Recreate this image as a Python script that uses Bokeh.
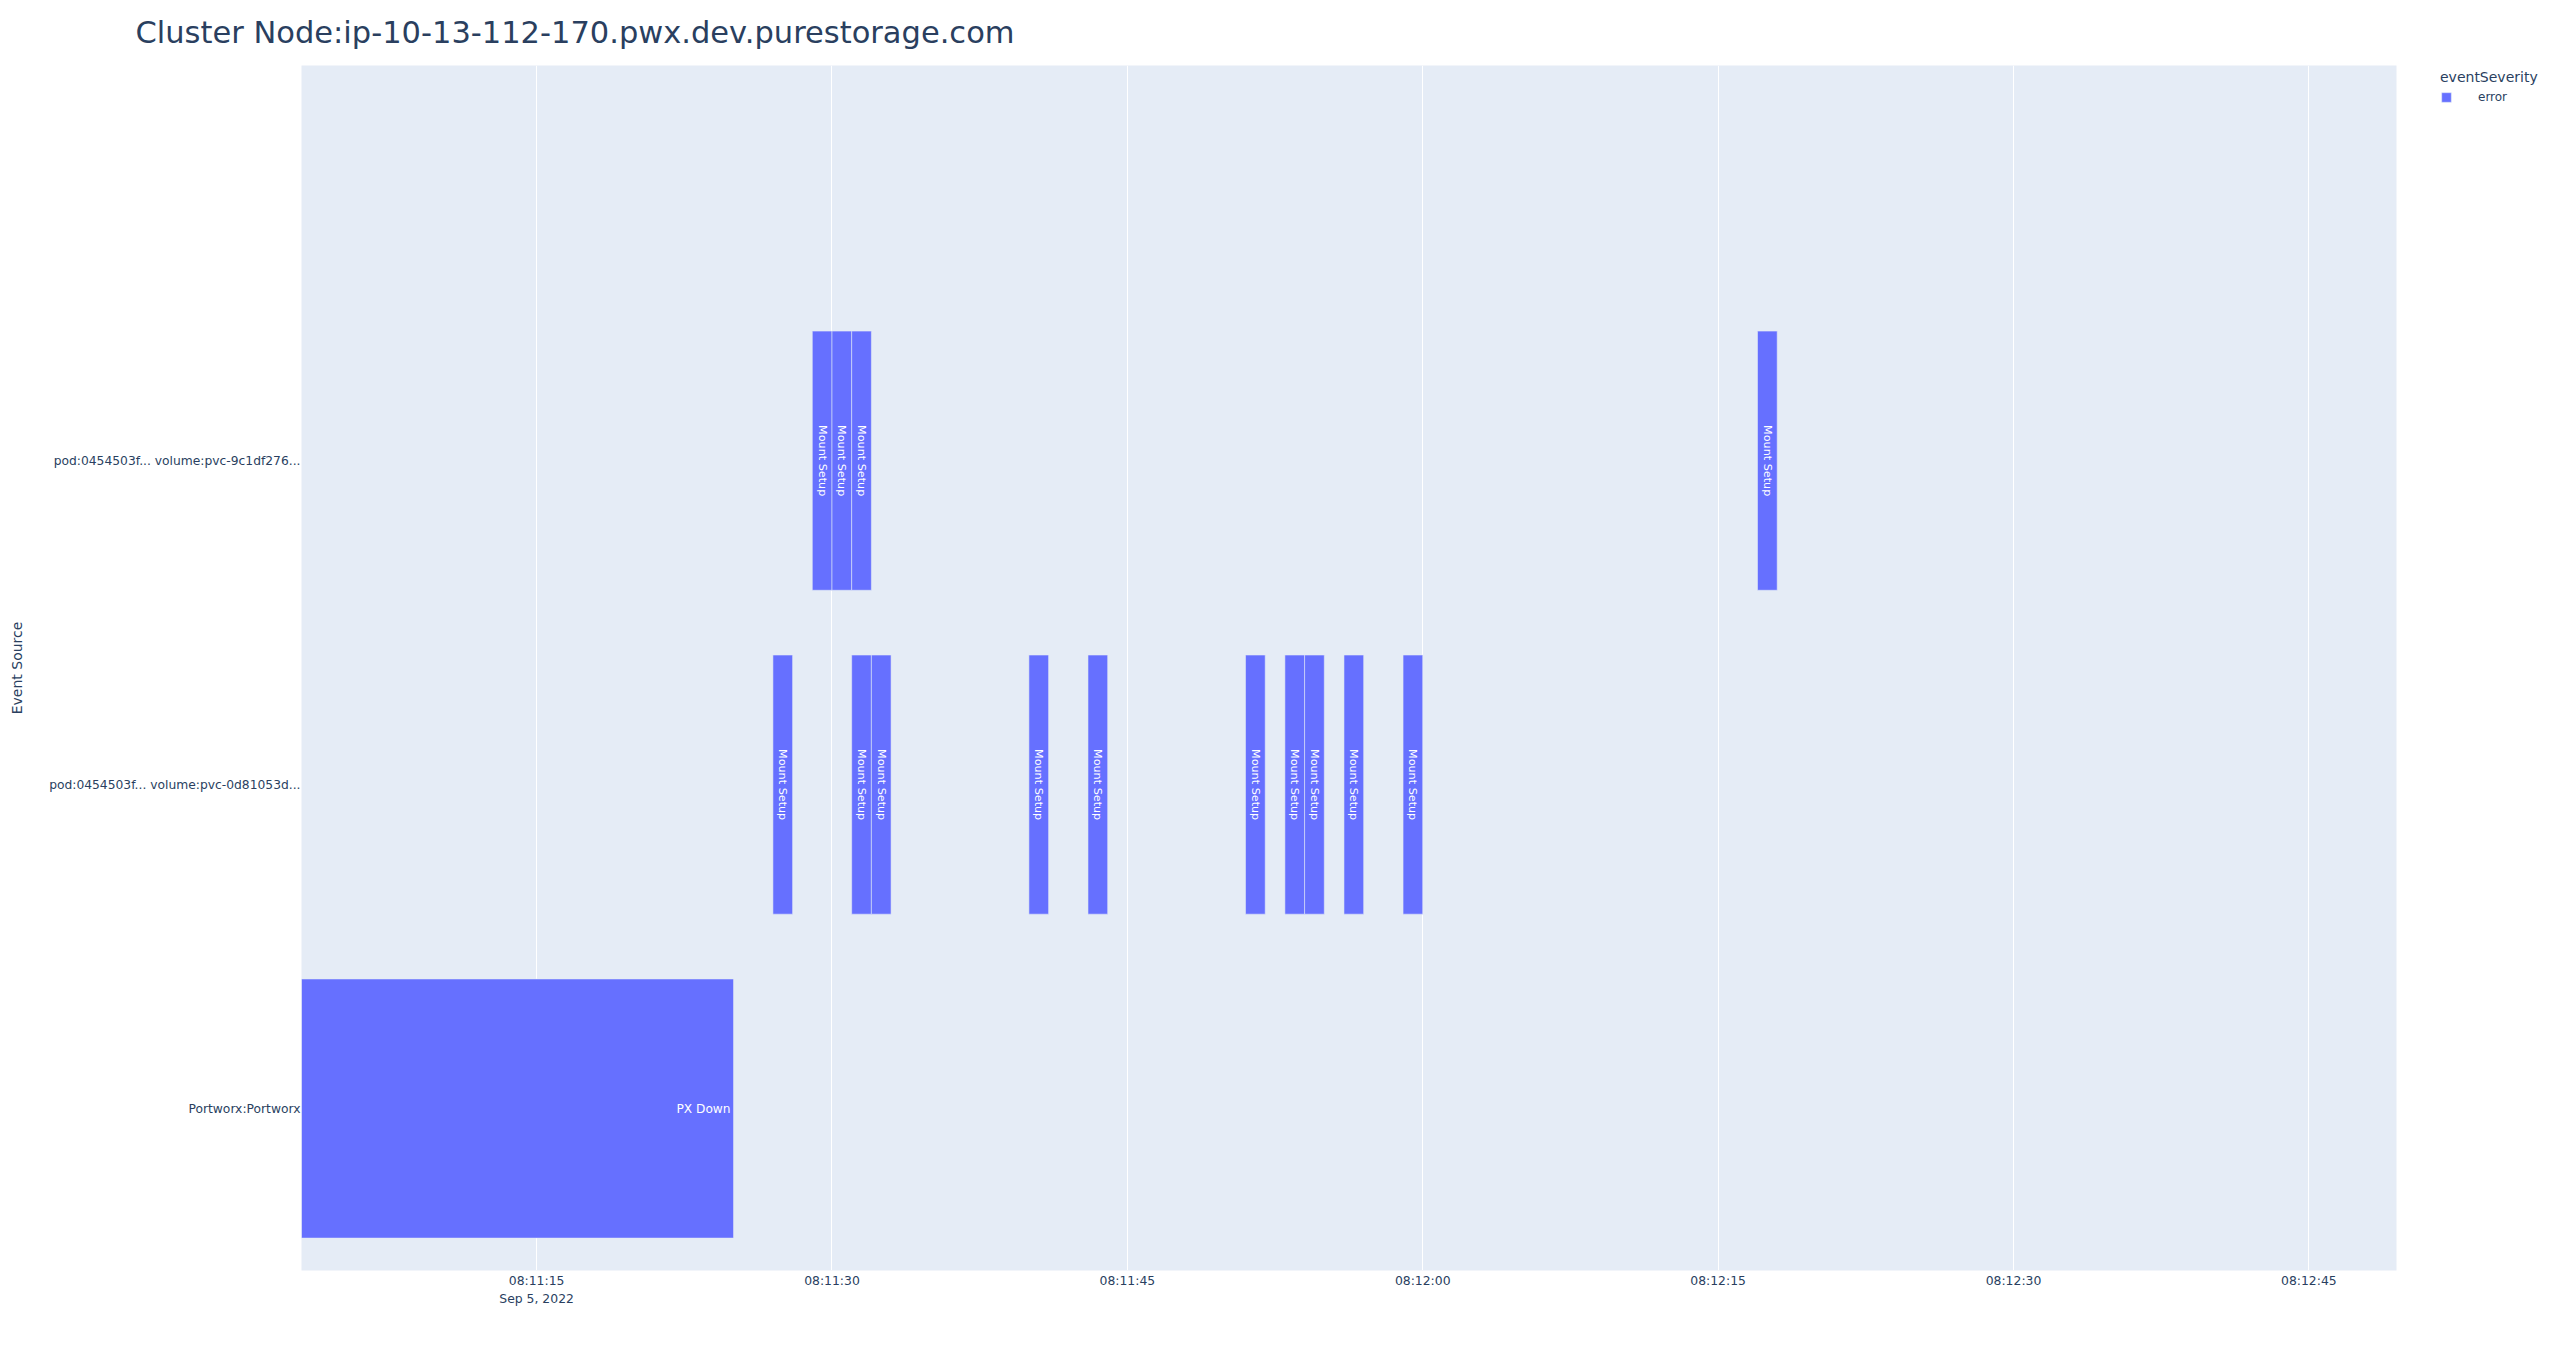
import pandas as pd
from bokeh.core.properties import value
from bokeh.embed import file_html
from bokeh.models import (ColumnDataSource, DatetimeTickFormatter, FixedTicker,
                          Legend, LegendItem, Range1d)
from bokeh.plotting import figure
from bokeh.resources import INLINE

TITLE = "Cluster Node:ip-10-13-112-170.pwx.dev.purestorage.com"
DAY = "2022-09-05 "
CATEGORIES = ["Portworx:Portworx",
              "pod:0454503f... volume:pvc-0d81053d...",
              "pod:0454503f... volume:pvc-9c1df276..."]
TICKS = ["08:11:15", "08:11:30", "08:11:45", "08:12:00", "08:12:15", "08:12:30", "08:12:45"]
VIEW_START = "08:11:03.06"
VIEW_END = "08:12:49.45"

PX_START = ["08:11:03"]
PX_END = ["08:11:25"]
PX_ROW = ["Portworx:Portworx"]
PX_TEXT = ["PX Down"]

MOUNT_START = ["08:11:27", "08:11:31", "08:11:32", "08:11:40", "08:11:43", "08:11:51",
               "08:11:53", "08:11:54", "08:11:56", "08:11:59",
               "08:11:29", "08:11:30", "08:11:31", "08:12:17"]
MOUNT_END = ["08:11:28", "08:11:32", "08:11:33", "08:11:41", "08:11:44", "08:11:52",
             "08:11:54", "08:11:55", "08:11:57", "08:12:00",
             "08:11:30", "08:11:31", "08:11:32", "08:12:18"]
MOUNT_ROW = [CATEGORIES[1]] * 10 + [CATEGORIES[2]] * 4
MOUNT_TEXT = ["Mount Setup"] * 14

BLUE = "#6670ff"
BG = "#e5ecf6"
INK = "#2a3f5f"
FONT = "DejaVu Sans"


def ts(values):
    return pd.to_datetime([DAY + v for v in values])


p = figure(frame_width=2095, frame_height=1205, x_axis_type="datetime",
           x_range=Range1d(ts([VIEW_START])[0], ts([VIEW_END])[0]),
           y_range=Range1d(-0.5, 3.22),
           output_backend="svg", toolbar_location=None,
           min_border_left=301, min_border_right=148, min_border_top=65, min_border_bottom=70,
           background_fill_color=BG, outline_line_color=None)

all_start = ts(PX_START + MOUNT_START)
all_end = ts(PX_END + MOUNT_END)
rows = [CATEGORIES.index(r) for r in PX_ROW + MOUNT_ROW]
src = ColumnDataSource(dict(start=all_start, end=all_end, row=rows))
bars = p.hbar(y="row", left="start", right="end", height=0.8, source=src,
              fill_color=BLUE, line_color=BG, line_width=1, line_alpha=0.55)

px_src = ColumnDataSource(dict(x=ts(PX_END), y=[CATEGORIES.index(r) for r in PX_ROW], t=PX_TEXT))
p.text(x="x", y="y", text="t", source=px_src, text_color="white", text_font=value(FONT),
       text_font_size="12.2px", text_align="right", text_baseline="middle", x_offset=-3)

m_start = ts(MOUNT_START)
m_end = ts(MOUNT_END)
m_src = ColumnDataSource(dict(x=m_start + (m_end - m_start) / 2,
                              y=[CATEGORIES.index(r) for r in MOUNT_ROW], t=MOUNT_TEXT))
p.text(x="x", y="y", text="t", source=m_src, text_color="white", text_font=value(FONT),
       text_font_size="11.2px", text_align="center", text_baseline="middle", angle=-90,
       angle_units="deg")

xa = p.xaxis[0]
xa.ticker = FixedTicker(ticks=[t.value / 1e6 for t in ts(TICKS)])
xa.formatter = DatetimeTickFormatter(
    seconds="%H:%M:%S", minsec="%H:%M:%S", minutes="%H:%M:%S", hourmin="%H:%M:%S",
    context=DatetimeTickFormatter(seconds="%b %-d, %Y", minsec="%b %-d, %Y",
                                  minutes="%b %-d, %Y", hourmin="%b %-d, %Y"),
    context_which="start")
xa.major_label_text_font = FONT
xa.major_label_text_font_size = "12.4px"
xa.major_label_text_color = INK
xa.major_label_standoff = 2
xa.axis_line_color = None
xa.major_tick_line_color = None
xa.minor_tick_line_color = None
xa.major_tick_out = 0
xa.minor_tick_out = 0

ya = p.yaxis[0]
ya.ticker = FixedTicker(ticks=list(range(len(CATEGORIES))))
ya.major_label_overrides = {i: c for i, c in enumerate(CATEGORIES)}
ya.major_label_text_font = FONT
ya.major_label_text_font_size = "12.3px"
ya.major_label_text_color = INK
ya.major_label_standoff = 1
ya.axis_line_color = None
ya.major_tick_line_color = None
ya.minor_tick_line_color = None
ya.major_tick_out = 0
ya.minor_tick_out = 0
ya.axis_label = "Event Source"
ya.axis_label_text_font = FONT
ya.axis_label_text_font_size = "14px"
ya.axis_label_text_font_style = "normal"
ya.axis_label_text_color = INK
ya.axis_label_standoff = 21

p.xgrid.grid_line_color = "white"
p.xgrid.grid_line_width = 1
p.ygrid.grid_line_color = None

p.title.text = TITLE
p.title.text_font = FONT
p.title.text_font_size = "30.5px"
p.title.text_font_style = "normal"
p.title.text_color = INK
p.title.offset = -166
p.title.standoff = 28
p.title.vertical_align = "top"
p.title.text_baseline = "middle"

legend = Legend(items=[LegendItem(label="error", renderers=[bars])],
                title="eventSeverity", title_text_font=FONT, title_text_font_size="14px",
                title_text_font_style="normal", title_text_color=INK, title_standoff=5,
                location=(44, 1166), orientation="vertical",
                glyph_width=12, glyph_height=12, label_standoff=26, padding=0, margin=0,
                spacing=0, border_line_color=None, background_fill_alpha=0,
                label_text_font=FONT, label_text_font_size="12px", label_text_color=INK,
                label_height=12)
p.add_layout(legend, "right")

open("out.html", "w").write(file_html(p, INLINE))
